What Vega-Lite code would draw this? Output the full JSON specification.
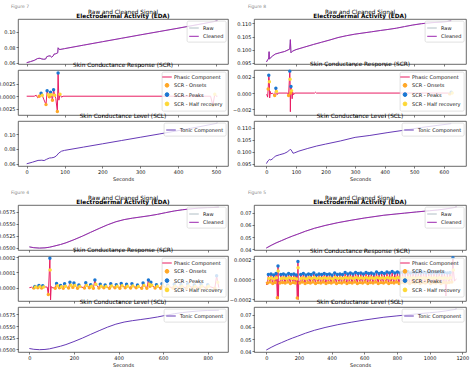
{
"$schema": "https://vega.github.io/schema/vega-lite/v6.json",
"background": "white",
"padding": {"left": -8, "top": 0, "right": 0, "bottom": 0},
"columns": 2,
"spacing": {"row": 6, "column": 26},
"bounds": "flush",
"align": "each",
"resolve": {"scale": {"color": "independent"}},
"datasets": {
"w7c": [{"x":0,"y":0.0602},{"x":10,"y":0.0616},{"x":20,"y":0.0632},{"x":29,"y":0.0656},{"x":35,"y":0.0659},{"x":40,"y":0.065},{"x":45,"y":0.0646},{"x":50,"y":0.0649},{"x":53,"y":0.0679},{"x":58,"y":0.0688},{"x":62,"y":0.069},{"x":66,"y":0.0673},{"x":70,"y":0.0689},{"x":72,"y":0.0711},{"x":76,"y":0.0716},{"x":80,"y":0.0724},{"x":82,"y":0.0729},{"x":83,"y":0.0794},{"x":85,"y":0.0777},{"x":88,"y":0.0772},{"x":100,"y":0.0783},{"x":150,"y":0.0828},{"x":200,"y":0.0872},{"x":250,"y":0.0916},{"x":300,"y":0.096},{"x":350,"y":0.1003},{"x":400,"y":0.1046},{"x":450,"y":0.1091},{"x":504,"y":0.114}],
"w7t": [{"x":0,"y":0.06},{"x":15,"y":0.0621},{"x":30,"y":0.0645},{"x":40,"y":0.0648},{"x":46,"y":0.0643},{"x":52,"y":0.0659},{"x":60,"y":0.0677},{"x":66,"y":0.068},{"x":72,"y":0.0686},{"x":78,"y":0.0704},{"x":85,"y":0.0745},{"x":92,"y":0.0769},{"x":100,"y":0.078},{"x":150,"y":0.0824},{"x":200,"y":0.0868},{"x":250,"y":0.0912},{"x":300,"y":0.0956},{"x":350,"y":0.1},{"x":400,"y":0.1045},{"x":450,"y":0.1092},{"x":504,"y":0.1145}],
"w7s": [{"x":0,"y":0,"k":"Phasic Component"},{"x":20,"y":0,"k":"Phasic Component"},{"x":25,"y":0.0002,"k":"Phasic Component"},{"x":29,"y":-0.0003,"k":"Phasic Component"},{"x":33,"y":0,"k":"SCR - Onsets"},{"x":38,"y":0.0006,"k":"SCR - Peaks"},{"x":41,"y":0.0002,"k":"SCR - Half recovery"},{"x":45,"y":-0.0006,"k":"Phasic Component"},{"x":51,"y":-0.0017,"k":"SCR - Onsets"},{"x":54,"y":0.0011,"k":"SCR - Peaks"},{"x":57,"y":0.0003,"k":"SCR - Half recovery"},{"x":60,"y":-0.0001,"k":"SCR - Onsets"},{"x":63,"y":0.0008,"k":"SCR - Peaks"},{"x":65,"y":0.0003,"k":"SCR - Half recovery"},{"x":68,"y":-0.0008,"k":"SCR - Onsets"},{"x":71,"y":0.0013,"k":"SCR - Peaks"},{"x":74,"y":0.0002,"k":"SCR - Half recovery"},{"x":77,"y":-0.0005,"k":"Phasic Component"},{"x":81,"y":-0.0031,"k":"SCR - Onsets"},{"x":83,"y":0.0047,"k":"SCR - Peaks"},{"x":85,"y":-0.0008,"k":"Phasic Component"},{"x":88,"y":0.0004,"k":"SCR - Half recovery"},{"x":92,"y":-0.0002,"k":"Phasic Component"},{"x":96,"y":0,"k":"Phasic Component"},{"x":486,"y":0,"k":"Phasic Component"},{"x":492,"y":-0.0019,"k":"SCR - Onsets"},{"x":497,"y":0.0004,"k":"SCR - Half recovery"},{"x":501,"y":0,"k":"Phasic Component"},{"x":504,"y":0,"k":"Phasic Component"}],
"w8c": [{"x":0,"y":0.0953},{"x":5,"y":0.0962},{"x":8,"y":0.0968},{"x":9,"y":0.0992},{"x":10,"y":0.0964},{"x":20,"y":0.0975},{"x":30,"y":0.0983},{"x":45,"y":0.0988},{"x":62,"y":0.0993},{"x":79,"y":0.1002},{"x":81,"y":0.1038},{"x":83,"y":0.0988},{"x":88,"y":0.0994},{"x":100,"y":0.1},{"x":130,"y":0.101},{"x":160,"y":0.102},{"x":186,"y":0.1028},{"x":215,"y":0.1037},{"x":242,"y":0.1046},{"x":270,"y":0.1053},{"x":299,"y":0.1059},{"x":330,"y":0.1064},{"x":355,"y":0.1068},{"x":385,"y":0.1073},{"x":411,"y":0.1077},{"x":440,"y":0.1082},{"x":467,"y":0.1088},{"x":495,"y":0.1094},{"x":524,"y":0.1099},{"x":560,"y":0.1103},{"x":600,"y":0.1106},{"x":625,"y":0.1109}],
"w8t": [{"x":0,"y":0.0951},{"x":5,"y":0.0962},{"x":10,"y":0.0968},{"x":15,"y":0.0966},{"x":22,"y":0.0972},{"x":30,"y":0.0982},{"x":45,"y":0.0988},{"x":60,"y":0.0993},{"x":70,"y":0.0999},{"x":78,"y":0.1007},{"x":82,"y":0.101},{"x":86,"y":0.1003},{"x":90,"y":0.0994},{"x":96,"y":0.0996},{"x":110,"y":0.1003},{"x":140,"y":0.1014},{"x":170,"y":0.1024},{"x":200,"y":0.1032},{"x":250,"y":0.1045},{"x":300,"y":0.106},{"x":350,"y":0.1068},{"x":411,"y":0.108},{"x":467,"y":0.109},{"x":524,"y":0.1101},{"x":580,"y":0.111},{"x":625,"y":0.1117}],
"w8s": [{"x":0,"y":-0.0002,"k":"Phasic Component"},{"x":2,"y":-0.0002,"k":"Phasic Component"},{"x":4,"y":-0.0005,"k":"Phasic Component"},{"x":6,"y":0.0005,"k":"SCR - Onsets"},{"x":8,"y":0.0022,"k":"SCR - Peaks"},{"x":10,"y":0.0014,"k":"SCR - Half recovery"},{"x":11,"y":-0.0006,"k":"Phasic Component"},{"x":13,"y":0.0002,"k":"Phasic Component"},{"x":15,"y":-0.0001,"k":"Phasic Component"},{"x":20,"y":0,"k":"Phasic Component"},{"x":28,"y":-0.0003,"k":"SCR - Onsets"},{"x":32,"y":0.0006,"k":"SCR - Peaks"},{"x":34,"y":0.0002,"k":"SCR - Half recovery"},{"x":36,"y":-0.0002,"k":"Phasic Component"},{"x":40,"y":0,"k":"Phasic Component"},{"x":72,"y":0,"k":"Phasic Component"},{"x":75,"y":-0.0003,"k":"SCR - Onsets"},{"x":79,"y":0.0027,"k":"SCR - Peaks"},{"x":80,"y":0.0017,"k":"SCR - Half recovery"},{"x":81,"y":-0.0023,"k":"Phasic Component"},{"x":82,"y":0,"k":"SCR - Onsets"},{"x":83,"y":0.0008,"k":"SCR - Peaks"},{"x":85,"y":0.0003,"k":"SCR - Half recovery"},{"x":87,"y":-0.0007,"k":"Phasic Component"},{"x":89,"y":0.0001,"k":"Phasic Component"},{"x":92,"y":-0.0002,"k":"Phasic Component"},{"x":95,"y":0,"k":"Phasic Component"},{"x":163,"y":0,"k":"Phasic Component"},{"x":166,"y":0.0001,"k":"Phasic Component"},{"x":169,"y":0,"k":"Phasic Component"},{"x":615,"y":0,"k":"Phasic Component"},{"x":620,"y":-0.0001,"k":"SCR - Onsets"},{"x":625,"y":0.0001,"k":"SCR - Peaks"},{"x":628,"y":0,"k":"SCR - Half recovery"},{"x":632,"y":0,"k":"Phasic Component"}],
"w4c": [{"x":0,"y":0.05015},{"x":20,"y":0.04998},{"x":45,"y":0.0499},{"x":70,"y":0.04995},{"x":90,"y":0.05008},{"x":110,"y":0.0503},{"x":140,"y":0.05065},{"x":164,"y":0.051},{"x":200,"y":0.05165},{"x":238,"y":0.0524},{"x":275,"y":0.0532},{"x":313,"y":0.054},{"x":350,"y":0.05475},{"x":388,"y":0.0554},{"x":425,"y":0.05585},{"x":462,"y":0.05615},{"x":500,"y":0.0564},{"x":537,"y":0.05665},{"x":575,"y":0.05695},{"x":611,"y":0.0573},{"x":650,"y":0.05765},{"x":686,"y":0.0579},{"x":725,"y":0.0581},{"x":760,"y":0.05825},{"x":800,"y":0.05835},{"x":850,"y":0.0584}],
"w4s": [{"x":0,"y":0,"k":"Phasic Component"},{"x":10,"y":0.000003,"k":"Phasic Component"},{"x":15,"y":-0.000004,"k":"Phasic Component"},
{"x":20,"y":-0.000002,"k":"SCR - Onsets"},{"x":25,"y":0.000008,"k":"SCR - Peaks"},{"x":28,"y":0.000004,"k":"SCR - Half recovery"},
{"x":38,"y":0,"k":"SCR - Onsets"},{"x":43,"y":0.000015,"k":"SCR - Peaks"},{"x":47,"y":0.000007,"k":"SCR - Half recovery"},
{"x":55,"y":-0.000002,"k":"SCR - Onsets"},{"x":60,"y":0.000012,"k":"SCR - Peaks"},{"x":64,"y":0.000005,"k":"SCR - Half recovery"},
{"x":80,"y":0.000004,"k":"Phasic Component"},{"x":85,"y":-0.000045,"k":"SCR - Onsets"},{"x":92,"y":0.000193,"k":"SCR - Peaks"},{"x":93,"y":0.000115,"k":"SCR - Half recovery"},{"x":95,"y":-0.00008,"k":"Phasic Component"},{"x":98,"y":0.000008,"k":"Phasic Component"},{"x":102,"y":0,"k":"Phasic Component"},
{"x":116,"y":-0.000003,"k":"SCR - Onsets"},{"x":122,"y":0.000027,"k":"SCR - Peaks"},{"x":126,"y":0.000012,"k":"SCR - Half recovery"},
{"x":135,"y":0,"k":"SCR - Onsets"},{"x":140,"y":0.000015,"k":"SCR - Peaks"},{"x":144,"y":0.000007,"k":"SCR - Half recovery"},
{"x":152,"y":-0.000004,"k":"SCR - Onsets"},{"x":158,"y":0.000025,"k":"SCR - Peaks"},{"x":162,"y":0.00001,"k":"SCR - Half recovery"},
{"x":176,"y":-0.000002,"k":"SCR - Onsets"},{"x":182,"y":0.000035,"k":"SCR - Peaks"},{"x":186,"y":0.000016,"k":"SCR - Half recovery"},
{"x":195,"y":0.000002,"k":"SCR - Onsets"},{"x":200,"y":0.00003,"k":"SCR - Peaks"},{"x":204,"y":0.000014,"k":"SCR - Half recovery"},
{"x":216,"y":-0.000003,"k":"SCR - Onsets"},{"x":222,"y":0.000018,"k":"SCR - Peaks"},{"x":226,"y":0.000008,"k":"SCR - Half recovery"},
{"x":247,"y":-0.000002,"k":"SCR - Onsets"},{"x":253,"y":0.000032,"k":"SCR - Peaks"},{"x":257,"y":0.000015,"k":"SCR - Half recovery"},
{"x":269,"y":0,"k":"SCR - Onsets"},{"x":275,"y":0.00002,"k":"SCR - Peaks"},{"x":279,"y":0.000009,"k":"SCR - Half recovery"},
{"x":287,"y":-0.000004,"k":"SCR - Onsets"},{"x":294,"y":0.00005,"k":"SCR - Peaks"},{"x":298,"y":0.000022,"k":"SCR - Half recovery"},
{"x":312,"y":-0.000002,"k":"SCR - Onsets"},{"x":318,"y":0.000022,"k":"SCR - Peaks"},{"x":322,"y":0.00001,"k":"SCR - Half recovery"},
{"x":334,"y":0,"k":"SCR - Onsets"},{"x":340,"y":0.000018,"k":"SCR - Peaks"},{"x":344,"y":0.000008,"k":"SCR - Half recovery"},
{"x":359,"y":-0.000003,"k":"SCR - Onsets"},{"x":365,"y":0.000025,"k":"SCR - Peaks"},{"x":369,"y":0.000011,"k":"SCR - Half recovery"},
{"x":384,"y":-0.000001,"k":"SCR - Onsets"},{"x":390,"y":0.00002,"k":"SCR - Peaks"},{"x":394,"y":0.000009,"k":"SCR - Half recovery"},
{"x":406,"y":-0.000003,"k":"SCR - Onsets"},{"x":412,"y":0.000028,"k":"SCR - Peaks"},{"x":416,"y":0.000013,"k":"SCR - Half recovery"},
{"x":430,"y":0,"k":"SCR - Onsets"},{"x":436,"y":0.000022,"k":"SCR - Peaks"},{"x":440,"y":0.00001,"k":"SCR - Half recovery"},
{"x":454,"y":-0.000002,"k":"SCR - Onsets"},{"x":460,"y":0.000025,"k":"SCR - Peaks"},{"x":464,"y":0.000011,"k":"SCR - Half recovery"},
{"x":479,"y":-0.000001,"k":"SCR - Onsets"},{"x":485,"y":0.000018,"k":"SCR - Peaks"},{"x":489,"y":0.000008,"k":"SCR - Half recovery"},
{"x":504,"y":-0.000003,"k":"SCR - Onsets"},{"x":510,"y":0.00003,"k":"SCR - Peaks"},{"x":514,"y":0.000014,"k":"SCR - Half recovery"},
{"x":527,"y":-0.000004,"k":"SCR - Onsets"},{"x":534,"y":0.00005,"k":"SCR - Peaks"},{"x":538,"y":0.000022,"k":"SCR - Half recovery"},
{"x":541,"y":0.00001,"k":"SCR - Onsets"},{"x":545,"y":0.000035,"k":"SCR - Peaks"},{"x":549,"y":0.000016,"k":"SCR - Half recovery"},
{"x":564,"y":-0.000002,"k":"SCR - Onsets"},{"x":570,"y":0.00002,"k":"SCR - Peaks"},{"x":574,"y":0.000009,"k":"SCR - Half recovery"},
{"x":589,"y":-0.000003,"k":"SCR - Onsets"},{"x":595,"y":0.000025,"k":"SCR - Peaks"},{"x":599,"y":0.000011,"k":"SCR - Half recovery"},
{"x":614,"y":-0.000001,"k":"SCR - Onsets"},{"x":620,"y":0.000018,"k":"SCR - Peaks"},{"x":624,"y":0.000008,"k":"SCR - Half recovery"},
{"x":644,"y":-0.000002,"k":"SCR - Onsets"},{"x":650,"y":0.000022,"k":"SCR - Peaks"},{"x":654,"y":0.00001,"k":"SCR - Half recovery"},
{"x":674,"y":-0.000002,"k":"SCR - Onsets"},{"x":680,"y":0.00002,"k":"SCR - Peaks"},{"x":684,"y":0.000009,"k":"SCR - Half recovery"},
{"x":704,"y":-0.000003,"k":"SCR - Onsets"},{"x":710,"y":0.000025,"k":"SCR - Peaks"},{"x":714,"y":0.000011,"k":"SCR - Half recovery"},
{"x":734,"y":-0.000001,"k":"SCR - Onsets"},{"x":740,"y":0.000018,"k":"SCR - Peaks"},{"x":744,"y":0.000008,"k":"SCR - Half recovery"},
{"x":764,"y":-0.000002,"k":"SCR - Onsets"},{"x":770,"y":0.000022,"k":"SCR - Peaks"},{"x":774,"y":0.00001,"k":"SCR - Half recovery"},
{"x":794,"y":-0.000002,"k":"SCR - Onsets"},{"x":800,"y":0.00002,"k":"SCR - Peaks"},{"x":804,"y":0.000009,"k":"SCR - Half recovery"},
{"x":832,"y":-0.000003,"k":"SCR - Onsets"},{"x":840,"y":0.000078,"k":"SCR - Peaks"},{"x":845,"y":0.000035,"k":"SCR - Half recovery"},
{"x":850,"y":0,"k":"Phasic Component"}],
"w5c": [{"x":0,"y":0.041},{"x":30,"y":0.0432},{"x":60,"y":0.0452},{"x":92,"y":0.047},{"x":130,"y":0.0492},{"x":160,"y":0.0508},{"x":193,"y":0.0524},{"x":240,"y":0.0548},{"x":295,"y":0.0572},{"x":360,"y":0.0595},{"x":438,"y":0.0618},{"x":520,"y":0.0638},{"x":600,"y":0.0656},{"x":642,"y":0.0664},{"x":720,"y":0.0679},{"x":800,"y":0.069},{"x":846,"y":0.0696},{"x":920,"y":0.0706},{"x":1000,"y":0.0716},{"x":1050,"y":0.0722},{"x":1100,"y":0.0731},{"x":1165,"y":0.0745}],
"w5s": [{"x":0,"y":-0.00003,"k":"Phasic Component"},{"x":4,"y":-0.00006,"k":"Phasic Component"},
{"x":8,"y":-0.00004,"k":"SCR - Onsets"},{"x":13,"y":0.000045,"k":"SCR - Peaks"},{"x":16,"y":0.000005,"k":"SCR - Half recovery"},
{"x":24,"y":-0.00003,"k":"SCR - Onsets"},{"x":29,"y":0.00005,"k":"SCR - Peaks"},{"x":32,"y":0.00001,"k":"SCR - Half recovery"},
{"x":40,"y":-0.000045,"k":"SCR - Onsets"},{"x":45,"y":0.00004,"k":"SCR - Peaks"},{"x":48,"y":0,"k":"SCR - Half recovery"},
{"x":55,"y":-0.000035,"k":"SCR - Onsets"},{"x":60,"y":0.000055,"k":"SCR - Peaks"},{"x":63,"y":0.000012,"k":"SCR - Half recovery"},
{"x":68,"y":-0.000187,"k":"SCR - Onsets"},{"x":72,"y":0.00013,"k":"SCR - Peaks"},{"x":73,"y":0.00008,"k":"SCR - Half recovery"},{"x":74,"y":-0.0002,"k":"Phasic Component"},{"x":77,"y":-0.00002,"k":"Phasic Component"},
{"x":84,"y":-0.00004,"k":"SCR - Onsets"},{"x":89,"y":0.000045,"k":"SCR - Peaks"},{"x":92,"y":0.000005,"k":"SCR - Half recovery"},
{"x":100,"y":-0.000035,"k":"SCR - Onsets"},{"x":105,"y":0.00005,"k":"SCR - Peaks"},{"x":108,"y":0.00001,"k":"SCR - Half recovery"},
{"x":116,"y":-0.00004,"k":"SCR - Onsets"},{"x":121,"y":0.00004,"k":"SCR - Peaks"},{"x":124,"y":0.000002,"k":"SCR - Half recovery"},
{"x":132,"y":-0.00003,"k":"SCR - Onsets"},{"x":137,"y":0.000055,"k":"SCR - Peaks"},{"x":140,"y":0.000012,"k":"SCR - Half recovery"},
{"x":148,"y":-0.000045,"k":"SCR - Onsets"},{"x":153,"y":0.000045,"k":"SCR - Peaks"},{"x":156,"y":0.000005,"k":"SCR - Half recovery"},
{"x":164,"y":-0.000035,"k":"SCR - Onsets"},{"x":169,"y":0.00005,"k":"SCR - Peaks"},{"x":172,"y":0.000008,"k":"SCR - Half recovery"},
{"x":178,"y":-0.00004,"k":"SCR - Onsets"},{"x":183,"y":0.00004,"k":"SCR - Peaks"},{"x":186,"y":0,"k":"SCR - Half recovery"},
{"x":190,"y":-0.00019,"k":"SCR - Onsets"},{"x":194,"y":0.000175,"k":"SCR - Peaks"},{"x":195,"y":0.000113,"k":"SCR - Half recovery"},{"x":196,"y":-0.000205,"k":"Phasic Component"},{"x":199,"y":-0.00002,"k":"Phasic Component"},
{"x":206,"y":-0.00004,"k":"SCR - Onsets"},{"x":211,"y":0.000045,"k":"SCR - Peaks"},{"x":214,"y":0.000006,"k":"SCR - Half recovery"},
{"x":222,"y":-0.00003,"k":"SCR - Onsets"},{"x":227,"y":0.000055,"k":"SCR - Peaks"},{"x":230,"y":0.00001,"k":"SCR - Half recovery"},
{"x":238,"y":-0.000045,"k":"SCR - Onsets"},{"x":243,"y":0.00004,"k":"SCR - Peaks"},{"x":246,"y":0,"k":"SCR - Half recovery"},
{"x":254,"y":-0.000035,"k":"SCR - Onsets"},{"x":259,"y":0.00005,"k":"SCR - Peaks"},{"x":262,"y":0.000012,"k":"SCR - Half recovery"},
{"x":270,"y":-0.00004,"k":"SCR - Onsets"},{"x":275,"y":0.000045,"k":"SCR - Peaks"},{"x":278,"y":0.000004,"k":"SCR - Half recovery"},
{"x":286,"y":-0.00003,"k":"SCR - Onsets"},{"x":291,"y":0.00006,"k":"SCR - Peaks"},{"x":294,"y":0.000015,"k":"SCR - Half recovery"},
{"x":302,"y":-0.000045,"k":"SCR - Onsets"},{"x":307,"y":0.00004,"k":"SCR - Peaks"},{"x":310,"y":0.000002,"k":"SCR - Half recovery"},
{"x":318,"y":-0.000035,"k":"SCR - Onsets"},{"x":323,"y":0.00005,"k":"SCR - Peaks"},{"x":326,"y":0.00001,"k":"SCR - Half recovery"},
{"x":334,"y":-0.00004,"k":"SCR - Onsets"},{"x":339,"y":0.000045,"k":"SCR - Peaks"},{"x":342,"y":0.000006,"k":"SCR - Half recovery"},
{"x":350,"y":-0.00003,"k":"SCR - Onsets"},{"x":355,"y":0.000055,"k":"SCR - Peaks"},{"x":358,"y":0.000012,"k":"SCR - Half recovery"},
{"x":366,"y":-0.000045,"k":"SCR - Onsets"},{"x":371,"y":0.000045,"k":"SCR - Peaks"},{"x":374,"y":0.000004,"k":"SCR - Half recovery"},
{"x":382,"y":-0.000035,"k":"SCR - Onsets"},{"x":387,"y":0.00005,"k":"SCR - Peaks"},{"x":390,"y":0.00001,"k":"SCR - Half recovery"},
{"x":398,"y":-0.00004,"k":"SCR - Onsets"},{"x":403,"y":0.00004,"k":"SCR - Peaks"},{"x":406,"y":0,"k":"SCR - Half recovery"},
{"x":414,"y":-0.00003,"k":"SCR - Onsets"},{"x":419,"y":0.00006,"k":"SCR - Peaks"},{"x":422,"y":0.000015,"k":"SCR - Half recovery"},
{"x":430,"y":-0.000045,"k":"SCR - Onsets"},{"x":435,"y":0.000045,"k":"SCR - Peaks"},{"x":438,"y":0.000005,"k":"SCR - Half recovery"},
{"x":446,"y":-0.000035,"k":"SCR - Onsets"},{"x":451,"y":0.00005,"k":"SCR - Peaks"},{"x":454,"y":0.00001,"k":"SCR - Half recovery"},
{"x":462,"y":-0.00004,"k":"SCR - Onsets"},{"x":467,"y":0.000045,"k":"SCR - Peaks"},{"x":470,"y":0.000006,"k":"SCR - Half recovery"},
{"x":478,"y":-0.00003,"k":"SCR - Onsets"},{"x":483,"y":0.000065,"k":"SCR - Peaks"},{"x":486,"y":0.000015,"k":"SCR - Half recovery"},
{"x":494,"y":-0.000045,"k":"SCR - Onsets"},{"x":499,"y":0.00005,"k":"SCR - Peaks"},{"x":502,"y":0.000008,"k":"SCR - Half recovery"},
{"x":510,"y":-0.000035,"k":"SCR - Onsets"},{"x":515,"y":0.00006,"k":"SCR - Peaks"},{"x":518,"y":0.000012,"k":"SCR - Half recovery"},
{"x":526,"y":-0.00004,"k":"SCR - Onsets"},{"x":531,"y":0.00005,"k":"SCR - Peaks"},{"x":534,"y":0.000006,"k":"SCR - Half recovery"},
{"x":542,"y":-0.00003,"k":"SCR - Onsets"},{"x":547,"y":0.000065,"k":"SCR - Peaks"},{"x":550,"y":0.000015,"k":"SCR - Half recovery"},
{"x":558,"y":-0.000045,"k":"SCR - Onsets"},{"x":563,"y":0.000055,"k":"SCR - Peaks"},{"x":566,"y":0.000008,"k":"SCR - Half recovery"},
{"x":574,"y":-0.000035,"k":"SCR - Onsets"},{"x":579,"y":0.00006,"k":"SCR - Peaks"},{"x":582,"y":0.000012,"k":"SCR - Half recovery"},
{"x":590,"y":-0.00004,"k":"SCR - Onsets"},{"x":595,"y":0.00005,"k":"SCR - Peaks"},{"x":598,"y":0.000006,"k":"SCR - Half recovery"},
{"x":606,"y":-0.00003,"k":"SCR - Onsets"},{"x":611,"y":0.000065,"k":"SCR - Peaks"},{"x":614,"y":0.000015,"k":"SCR - Half recovery"},
{"x":622,"y":-0.000045,"k":"SCR - Onsets"},{"x":627,"y":0.000055,"k":"SCR - Peaks"},{"x":630,"y":0.000008,"k":"SCR - Half recovery"},
{"x":638,"y":-0.000035,"k":"SCR - Onsets"},{"x":643,"y":0.00006,"k":"SCR - Peaks"},{"x":646,"y":0.000012,"k":"SCR - Half recovery"},
{"x":654,"y":-0.00004,"k":"SCR - Onsets"},{"x":659,"y":0.00005,"k":"SCR - Peaks"},{"x":662,"y":0.000006,"k":"SCR - Half recovery"},
{"x":670,"y":-0.00003,"k":"SCR - Onsets"},{"x":675,"y":0.00007,"k":"SCR - Peaks"},{"x":678,"y":0.000015,"k":"SCR - Half recovery"},
{"x":686,"y":-0.000045,"k":"SCR - Onsets"},{"x":691,"y":0.000055,"k":"SCR - Peaks"},{"x":694,"y":0.000008,"k":"SCR - Half recovery"},
{"x":702,"y":-0.000035,"k":"SCR - Onsets"},{"x":707,"y":0.000065,"k":"SCR - Peaks"},{"x":710,"y":0.000012,"k":"SCR - Half recovery"},
{"x":718,"y":-0.00004,"k":"SCR - Onsets"},{"x":723,"y":0.000055,"k":"SCR - Peaks"},{"x":726,"y":0.000006,"k":"SCR - Half recovery"},
{"x":734,"y":-0.00003,"k":"SCR - Onsets"},{"x":739,"y":0.00007,"k":"SCR - Peaks"},{"x":742,"y":0.000015,"k":"SCR - Half recovery"},
{"x":750,"y":-0.000045,"k":"SCR - Onsets"},{"x":755,"y":0.00006,"k":"SCR - Peaks"},{"x":758,"y":0.000008,"k":"SCR - Half recovery"},
{"x":766,"y":-0.000035,"k":"SCR - Onsets"},{"x":771,"y":0.000075,"k":"SCR - Peaks"},{"x":774,"y":0.000012,"k":"SCR - Half recovery"},
{"x":782,"y":-0.00004,"k":"SCR - Onsets"},{"x":787,"y":0.00006,"k":"SCR - Peaks"},{"x":790,"y":0.000006,"k":"SCR - Half recovery"},
{"x":798,"y":-0.00003,"k":"SCR - Onsets"},{"x":803,"y":0.00007,"k":"SCR - Peaks"},{"x":806,"y":0.000015,"k":"SCR - Half recovery"},
{"x":814,"y":-0.000045,"k":"SCR - Onsets"},{"x":819,"y":0.00006,"k":"SCR - Peaks"},{"x":822,"y":0.000008,"k":"SCR - Half recovery"},
{"x":830,"y":-0.000035,"k":"SCR - Onsets"},{"x":835,"y":0.00007,"k":"SCR - Peaks"},{"x":838,"y":0.000012,"k":"SCR - Half recovery"},
{"x":846,"y":-0.00004,"k":"SCR - Onsets"},{"x":851,"y":0.00006,"k":"SCR - Peaks"},{"x":854,"y":0.000006,"k":"SCR - Half recovery"},
{"x":862,"y":-0.00003,"k":"SCR - Onsets"},{"x":867,"y":0.000075,"k":"SCR - Peaks"},{"x":870,"y":0.000015,"k":"SCR - Half recovery"},
{"x":878,"y":-0.000045,"k":"SCR - Onsets"},{"x":883,"y":0.00006,"k":"SCR - Peaks"},{"x":886,"y":0.000008,"k":"SCR - Half recovery"},
{"x":894,"y":-0.000035,"k":"SCR - Onsets"},{"x":899,"y":0.00007,"k":"SCR - Peaks"},{"x":902,"y":0.000012,"k":"SCR - Half recovery"},
{"x":910,"y":-0.00004,"k":"SCR - Onsets"},{"x":915,"y":0.00006,"k":"SCR - Peaks"},{"x":918,"y":0.000006,"k":"SCR - Half recovery"},
{"x":926,"y":-0.00003,"k":"SCR - Onsets"},{"x":931,"y":0.000075,"k":"SCR - Peaks"},{"x":934,"y":0.000015,"k":"SCR - Half recovery"},
{"x":942,"y":-0.000045,"k":"SCR - Onsets"},{"x":947,"y":0.00006,"k":"SCR - Peaks"},{"x":950,"y":0.000008,"k":"SCR - Half recovery"},
{"x":958,"y":-0.000035,"k":"SCR - Onsets"},{"x":963,"y":0.00007,"k":"SCR - Peaks"},{"x":966,"y":0.000012,"k":"SCR - Half recovery"},
{"x":974,"y":-0.00004,"k":"SCR - Onsets"},{"x":979,"y":0.00006,"k":"SCR - Peaks"},{"x":982,"y":0.000006,"k":"SCR - Half recovery"},
{"x":990,"y":-0.00003,"k":"SCR - Onsets"},{"x":995,"y":0.00007,"k":"SCR - Peaks"},{"x":998,"y":0.000015,"k":"SCR - Half recovery"},
{"x":1006,"y":-0.000045,"k":"SCR - Onsets"},{"x":1011,"y":0.00006,"k":"SCR - Peaks"},{"x":1014,"y":0.000008,"k":"SCR - Half recovery"},
{"x":1022,"y":-0.000035,"k":"SCR - Onsets"},{"x":1027,"y":0.00007,"k":"SCR - Peaks"},{"x":1030,"y":0.000012,"k":"SCR - Half recovery"},
{"x":1038,"y":-0.00004,"k":"SCR - Onsets"},{"x":1043,"y":0.00006,"k":"SCR - Peaks"},{"x":1046,"y":0.000006,"k":"SCR - Half recovery"},
{"x":1054,"y":-0.00003,"k":"SCR - Onsets"},{"x":1059,"y":0.00007,"k":"SCR - Peaks"},{"x":1062,"y":0.000015,"k":"SCR - Half recovery"},
{"x":1070,"y":-0.000045,"k":"SCR - Onsets"},{"x":1075,"y":0.00006,"k":"SCR - Peaks"},{"x":1078,"y":0.000008,"k":"SCR - Half recovery"},
{"x":1086,"y":-0.000035,"k":"SCR - Onsets"},{"x":1091,"y":0.000065,"k":"SCR - Peaks"},{"x":1094,"y":0.000012,"k":"SCR - Half recovery"},
{"x":1100,"y":-0.00017,"k":"Phasic Component"},
{"x":1104,"y":-0.00004,"k":"SCR - Onsets"},{"x":1109,"y":0.00006,"k":"SCR - Peaks"},{"x":1112,"y":0.000006,"k":"SCR - Half recovery"},
{"x":1120,"y":-0.000035,"k":"SCR - Onsets"},{"x":1125,"y":0.000065,"k":"SCR - Peaks"},{"x":1128,"y":0.000012,"k":"SCR - Half recovery"},
{"x":1136,"y":-0.00003,"k":"SCR - Onsets"},{"x":1143,"y":0.000213,"k":"SCR - Peaks"},{"x":1146,"y":0.00009,"k":"SCR - Half recovery"},
{"x":1152,"y":-0.00002,"k":"Phasic Component"},{"x":1165,"y":0,"k":"Phasic Component"}]
},
"concat": [
{"width":210,"height":13,"data":{"values":[]},"mark":"point","view":{"stroke":null},"title":{"text":"Figure 7","anchor":"start","offset":-8,"dx":-7,"fontSize":4.5,"color":"#8a8a8a"}},
{"width":212,"height":13,"data":{"values":[]},"mark":"point","view":{"stroke":null},"title":{"text":"Figure 8","anchor":"start","offset":-8,"dx":-6,"fontSize":4.5,"color":"#8a8a8a"}},

{"width":210,"height":45,"title":{"text":"Raw and Cleaned Signal","subtitle":"Electrodermal Activity (EDA)","offset":0.5},"data":{"name":"w7c"},
 "encoding":{"x":{"field":"x","type":"quantitative","scale":{"domain":[-23,532],"nice":false,"zero":false},"axis":{"values":[0,100,200,300,400,500],"labels":false,"title":null}},
  "y":{"field":"y","type":"quantitative","scale":{"domain":[0.0585,0.1165],"nice":false,"zero":false},"axis":{"values":[0.06,0.08,0.1],"format":".2f","title":null}}},
 "layer":[{"mark":{"type":"line","strokeWidth":1},"encoding":{"color":{"datum":"Raw","type":"nominal","title":null,"scale":{"domain":["Raw","Cleaned"],"range":["#B0BEC5","#9C27B0"]},"legend":{"title":null,"symbolType":"M-1.35,0H1.35"}}}},
  {"mark":{"type":"line","strokeWidth":1},"encoding":{"color":{"datum":"Cleaned","type":"nominal","title":null}}}]},
{"width":212,"height":45,"title":{"text":"Raw and Cleaned Signal","subtitle":"Electrodermal Activity (EDA)","offset":0.5},"data":{"name":"w8c"},
 "encoding":{"x":{"field":"x","type":"quantitative","scale":{"domain":[-42,675],"nice":false,"zero":false},"axis":{"values":[0,100,200,300,400,500,600],"labels":false,"title":null}},
  "y":{"field":"y","type":"quantitative","scale":{"domain":[0.0945,0.1117],"nice":false,"zero":false},"axis":{"values":[0.095,0.1,0.105,0.11],"format":".3f","title":null}}},
 "layer":[{"mark":{"type":"line","strokeWidth":1},"encoding":{"color":{"datum":"Raw","type":"nominal","title":null,"scale":{"domain":["Raw","Cleaned"],"range":["#B0BEC5","#9C27B0"]},"legend":{"title":null,"symbolType":"M-1.35,0H1.35"}}}},
  {"mark":{"type":"line","strokeWidth":1},"encoding":{"color":{"datum":"Cleaned","type":"nominal","title":null}}}]},

{"width":210,"height":45,"title":"Skin Conductance Response (SCR)","data":{"name":"w7s"},
 "encoding":{"x":{"field":"x","type":"quantitative","scale":{"domain":[-23,532],"nice":false,"zero":false},"axis":{"values":[0,100,200,300,400,500],"labels":false,"title":null}},
  "y":{"field":"y","type":"quantitative","scale":{"domain":[-0.0038,0.0053],"nice":false,"zero":false},"axis":{"values":[-0.0025,0,0.0025],"format":".4f","title":null}}},
 "layer":[{"mark":{"type":"line","strokeWidth":1},"encoding":{"color":{"datum":"Phasic Component","type":"nominal","title":null,"scale":{"domain":["Phasic Component","SCR - Onsets","SCR - Peaks","SCR - Half recovery"],"range":["#E91E63","#FFA726","#1976D2","#FDD835"]},
   "legend":{"title":null,"symbolType":"circle","encode":{"symbols":{"update":{"shape":{"signal":"datum.value == 'Phasic Component' ? 'M-1.35,0H1.35' : 'circle'"},"size":{"signal":"datum.value == 'Phasic Component' ? 50 : 14"},"fill":{"signal":"datum.value == 'SCR - Onsets' ? '#FFA726' : datum.value == 'SCR - Peaks' ? '#1976D2' : datum.value == 'SCR - Half recovery' ? '#FDD835' : 'transparent'"},"stroke":{"signal":"datum.value == 'Phasic Component' ? '#E91E63' : 'transparent'"},"strokeWidth":{"value":1},"opacity":{"value":1}}}}}}}},
  {"transform":[{"filter":"datum.k == 'SCR - Onsets'"}],"mark":{"type":"point","filled":true,"size":12,"opacity":1},"encoding":{"color":{"field":"k","type":"nominal","title":null}}},
  {"transform":[{"filter":"datum.k == 'SCR - Peaks'"}],"mark":{"type":"point","filled":true,"size":12,"opacity":1},"encoding":{"color":{"field":"k","type":"nominal","title":null}}},
  {"transform":[{"filter":"datum.k == 'SCR - Half recovery'"}],"mark":{"type":"point","filled":true,"size":12,"opacity":1},"encoding":{"color":{"field":"k","type":"nominal","title":null}}}]},
{"width":212,"height":45,"title":"Skin Conductance Response (SCR)","data":{"name":"w8s"},
 "encoding":{"x":{"field":"x","type":"quantitative","scale":{"domain":[-42,675],"nice":false,"zero":false},"axis":{"values":[0,100,200,300,400,500,600],"labels":false,"title":null}},
  "y":{"field":"y","type":"quantitative","scale":{"domain":[-0.0027,0.00284],"nice":false,"zero":false},"axis":{"values":[-0.002,0,0.002],"format":".3f","title":null}}},
 "layer":[{"mark":{"type":"line","strokeWidth":1},"encoding":{"color":{"datum":"Phasic Component","type":"nominal","title":null,"scale":{"domain":["Phasic Component","SCR - Onsets","SCR - Peaks","SCR - Half recovery"],"range":["#E91E63","#FFA726","#1976D2","#FDD835"]},
   "legend":{"title":null,"symbolType":"circle","encode":{"symbols":{"update":{"shape":{"signal":"datum.value == 'Phasic Component' ? 'M-1.35,0H1.35' : 'circle'"},"size":{"signal":"datum.value == 'Phasic Component' ? 50 : 14"},"fill":{"signal":"datum.value == 'SCR - Onsets' ? '#FFA726' : datum.value == 'SCR - Peaks' ? '#1976D2' : datum.value == 'SCR - Half recovery' ? '#FDD835' : 'transparent'"},"stroke":{"signal":"datum.value == 'Phasic Component' ? '#E91E63' : 'transparent'"},"strokeWidth":{"value":1},"opacity":{"value":1}}}}}}}},
  {"transform":[{"filter":"datum.k == 'SCR - Onsets'"}],"mark":{"type":"point","filled":true,"size":12,"opacity":1},"encoding":{"color":{"field":"k","type":"nominal","title":null}}},
  {"transform":[{"filter":"datum.k == 'SCR - Peaks'"}],"mark":{"type":"point","filled":true,"size":12,"opacity":1},"encoding":{"color":{"field":"k","type":"nominal","title":null}}},
  {"transform":[{"filter":"datum.k == 'SCR - Half recovery'"}],"mark":{"type":"point","filled":true,"size":12,"opacity":1},"encoding":{"color":{"field":"k","type":"nominal","title":null}}}]},

{"width":210,"height":45,"title":"Skin Conductance Level (SCL)","data":{"name":"w7t"},
 "encoding":{"x":{"field":"x","type":"quantitative","scale":{"domain":[-23,532],"nice":false,"zero":false},"axis":{"values":[0,100,200,300,400,500],"format":"d","title":"Seconds"}},
  "y":{"field":"y","type":"quantitative","scale":{"domain":[0.057,0.1175],"nice":false,"zero":false},"axis":{"values":[0.06,0.08,0.1],"format":".2f","title":null}}},
 "layer":[{"mark":{"type":"line","strokeWidth":1},"encoding":{"color":{"datum":"Tonic Component","type":"nominal","title":null,"scale":{"domain":["Tonic Component"],"range":["#673AB7"]},"legend":{"title":null,"symbolType":"M-1.35,0H1.35"}}}}]},
{"width":212,"height":45,"title":"Skin Conductance Level (SCL)","data":{"name":"w8t"},
 "encoding":{"x":{"field":"x","type":"quantitative","scale":{"domain":[-42,675],"nice":false,"zero":false},"axis":{"values":[0,100,200,300,400,500,600],"format":"d","title":"Seconds"}},
  "y":{"field":"y","type":"quantitative","scale":{"domain":[0.0941,0.1128],"nice":false,"zero":false},"axis":{"values":[0.095,0.1,0.105,0.11],"format":".3f","title":null}}},
 "layer":[{"mark":{"type":"line","strokeWidth":1},"encoding":{"color":{"datum":"Tonic Component","type":"nominal","title":null,"scale":{"domain":["Tonic Component"],"range":["#673AB7"]},"legend":{"title":null,"symbolType":"M-1.35,0H1.35"}}}}]},

{"width":210,"height":27,"data":{"values":[]},"mark":"point","view":{"stroke":null},"title":{"text":"Figure 4","anchor":"start","offset":-22,"dx":-7,"fontSize":4.5,"color":"#8a8a8a"}},
{"width":212,"height":27,"data":{"values":[]},"mark":"point","view":{"stroke":null},"title":{"text":"Figure 5","anchor":"start","offset":-22,"dx":-6,"fontSize":4.5,"color":"#8a8a8a"}},

{"width":210,"height":45,"title":{"text":"Raw and Cleaned Signal","subtitle":"Electrodermal Activity (EDA)","offset":0.5},"data":{"name":"w4c"},
 "encoding":{"x":{"field":"x","type":"quantitative","scale":{"domain":[-51,891],"nice":false,"zero":false},"axis":{"values":[0,200,400,600,800],"labels":false,"title":null}},
  "y":{"field":"y","type":"quantitative","scale":{"domain":[0.0495,0.0589],"nice":false,"zero":false},"axis":{"values":[0.05,0.0525,0.055,0.0575],"format":".4f","title":null}}},
 "layer":[{"mark":{"type":"line","strokeWidth":1},"encoding":{"color":{"datum":"Raw","type":"nominal","title":null,"scale":{"domain":["Raw","Cleaned"],"range":["#B0BEC5","#9C27B0"]},"legend":{"title":null,"symbolType":"M-1.35,0H1.35"}}}},
  {"mark":{"type":"line","strokeWidth":1},"encoding":{"color":{"datum":"Cleaned","type":"nominal","title":null}}}]},
{"width":212,"height":45,"title":{"text":"Raw and Cleaned Signal","subtitle":"Electrodermal Activity (EDA)","offset":0.5},"data":{"name":"w5c"},
 "encoding":{"x":{"field":"x","type":"quantitative","scale":{"domain":[-75,1223],"nice":false,"zero":false},"axis":{"values":[0,200,400,600,800,1000,1200],"labels":false,"title":null}},
  "y":{"field":"y","type":"quantitative","scale":{"domain":[0.0394,0.0763],"nice":false,"zero":false},"axis":{"values":[0.04,0.05,0.06,0.07],"format":".2f","title":null}}},
 "layer":[{"mark":{"type":"line","strokeWidth":1},"encoding":{"color":{"datum":"Raw","type":"nominal","title":null,"scale":{"domain":["Raw","Cleaned"],"range":["#B0BEC5","#9C27B0"]},"legend":{"title":null,"symbolType":"M-1.35,0H1.35"}}}},
  {"mark":{"type":"line","strokeWidth":1},"encoding":{"color":{"datum":"Cleaned","type":"nominal","title":null}}}]},

{"width":210,"height":45,"title":"Skin Conductance Response (SCR)","data":{"name":"w4s"},
 "encoding":{"x":{"field":"x","type":"quantitative","scale":{"domain":[-51,891],"nice":false,"zero":false},"axis":{"values":[0,200,400,600,800],"labels":false,"title":null}},
  "y":{"field":"y","type":"quantitative","scale":{"domain":[-0.000087,0.000207],"nice":false,"zero":false},"axis":{"values":[0,0.0001,0.0002],"format":".4f","title":null}}},
 "layer":[{"mark":{"type":"line","strokeWidth":1},"encoding":{"color":{"datum":"Phasic Component","type":"nominal","title":null,"scale":{"domain":["Phasic Component","SCR - Onsets","SCR - Peaks","SCR - Half recovery"],"range":["#E91E63","#FFA726","#1976D2","#FDD835"]},
   "legend":{"title":null,"symbolType":"circle","encode":{"symbols":{"update":{"shape":{"signal":"datum.value == 'Phasic Component' ? 'M-1.35,0H1.35' : 'circle'"},"size":{"signal":"datum.value == 'Phasic Component' ? 50 : 14"},"fill":{"signal":"datum.value == 'SCR - Onsets' ? '#FFA726' : datum.value == 'SCR - Peaks' ? '#1976D2' : datum.value == 'SCR - Half recovery' ? '#FDD835' : 'transparent'"},"stroke":{"signal":"datum.value == 'Phasic Component' ? '#E91E63' : 'transparent'"},"strokeWidth":{"value":1},"opacity":{"value":1}}}}}}}},
  {"transform":[{"filter":"datum.k == 'SCR - Onsets'"}],"mark":{"type":"point","filled":true,"size":12,"opacity":1},"encoding":{"color":{"field":"k","type":"nominal","title":null}}},
  {"transform":[{"filter":"datum.k == 'SCR - Peaks'"}],"mark":{"type":"point","filled":true,"size":12,"opacity":1},"encoding":{"color":{"field":"k","type":"nominal","title":null}}},
  {"transform":[{"filter":"datum.k == 'SCR - Half recovery'"}],"mark":{"type":"point","filled":true,"size":12,"opacity":1},"encoding":{"color":{"field":"k","type":"nominal","title":null}}}]},
{"width":212,"height":45,"title":"Skin Conductance Response (SCR)","data":{"name":"w5s"},
 "encoding":{"x":{"field":"x","type":"quantitative","scale":{"domain":[-75,1223],"nice":false,"zero":false},"axis":{"values":[0,200,400,600,800,1000,1200],"labels":false,"title":null}},
  "y":{"field":"y","type":"quantitative","scale":{"domain":[-0.00022,0.00023],"nice":false,"zero":false},"axis":{"values":[-0.0002,0,0.0002],"format":".4f","title":null}}},
 "layer":[{"mark":{"type":"line","strokeWidth":1},"encoding":{"color":{"datum":"Phasic Component","type":"nominal","title":null,"scale":{"domain":["Phasic Component","SCR - Onsets","SCR - Peaks","SCR - Half recovery"],"range":["#E91E63","#FFA726","#1976D2","#FDD835"]},
   "legend":{"title":null,"symbolType":"circle","encode":{"symbols":{"update":{"shape":{"signal":"datum.value == 'Phasic Component' ? 'M-1.35,0H1.35' : 'circle'"},"size":{"signal":"datum.value == 'Phasic Component' ? 50 : 14"},"fill":{"signal":"datum.value == 'SCR - Onsets' ? '#FFA726' : datum.value == 'SCR - Peaks' ? '#1976D2' : datum.value == 'SCR - Half recovery' ? '#FDD835' : 'transparent'"},"stroke":{"signal":"datum.value == 'Phasic Component' ? '#E91E63' : 'transparent'"},"strokeWidth":{"value":1},"opacity":{"value":1}}}}}}}},
  {"transform":[{"filter":"datum.k == 'SCR - Onsets'"}],"mark":{"type":"point","filled":true,"size":12,"opacity":1},"encoding":{"color":{"field":"k","type":"nominal","title":null}}},
  {"transform":[{"filter":"datum.k == 'SCR - Peaks'"}],"mark":{"type":"point","filled":true,"size":12,"opacity":1},"encoding":{"color":{"field":"k","type":"nominal","title":null}}},
  {"transform":[{"filter":"datum.k == 'SCR - Half recovery'"}],"mark":{"type":"point","filled":true,"size":12,"opacity":1},"encoding":{"color":{"field":"k","type":"nominal","title":null}}}]},

{"width":210,"height":45,"title":"Skin Conductance Level (SCL)","data":{"name":"w4c"},
 "encoding":{"x":{"field":"x","type":"quantitative","scale":{"domain":[-51,891],"nice":false,"zero":false},"axis":{"values":[0,200,400,600,800],"format":"d","title":"Seconds"}},
  "y":{"field":"y","type":"quantitative","scale":{"domain":[0.0494,0.0591],"nice":false,"zero":false},"axis":{"values":[0.05,0.0525,0.055,0.0575],"format":".4f","title":null}}},
 "layer":[{"mark":{"type":"line","strokeWidth":1},"encoding":{"color":{"datum":"Tonic Component","type":"nominal","title":null,"scale":{"domain":["Tonic Component"],"range":["#673AB7"]},"legend":{"title":null,"symbolType":"M-1.35,0H1.35"}}}}]},
{"width":212,"height":45,"title":"Skin Conductance Level (SCL)","data":{"name":"w5c"},
 "encoding":{"x":{"field":"x","type":"quantitative","scale":{"domain":[-75,1223],"nice":false,"zero":false},"axis":{"values":[0,200,400,600,800,1000,1200],"format":"d","title":"Seconds"}},
  "y":{"field":"y","type":"quantitative","scale":{"domain":[0.0394,0.0763],"nice":false,"zero":false},"axis":{"values":[0.04,0.05,0.06,0.07],"format":".2f","title":null}}},
 "layer":[{"mark":{"type":"line","strokeWidth":1},"encoding":{"color":{"datum":"Tonic Component","type":"nominal","title":null,"scale":{"domain":["Tonic Component"],"range":["#673AB7"]},"legend":{"title":null,"symbolType":"M-1.35,0H1.35"}}}}]}
],
"config": {
 "font": "DejaVu Sans",
 "view": {"stroke": "#444", "strokeWidth": 0.8},
 "axis": {"labelFont": "DejaVu Sans", "labelFontSize": 5, "labelColor": "#111", "tickColor": "#222", "tickSize": 2, "tickWidth": 0.6, "labelPadding": 1, "domain": false, "grid": false, "titleFont": "DejaVu Sans", "titleFontSize": 5, "titleFontWeight": "normal", "titleColor": "#111", "titlePadding": 2, "labelFlush": false, "labelOverlap": false},
 "legend": {"orient": "top-right", "offset": 2, "padding": 2.5, "labelFont": "DejaVu Sans", "labelFontSize": 5, "labelColor": "#111", "symbolSize": 50, "symbolStrokeWidth": 1, "rowPadding": 0.3, "labelOffset": 4.5, "strokeColor": "#cccccc", "strokeWidth": 0.6, "fillColor": "rgba(255,255,255,0.8)", "cornerRadius": 1.5},
 "title": {"font": "DejaVu Sans", "fontSize": 5.8, "fontWeight": "normal", "color": "#000", "offset": 2, "subtitleFont": "DejaVu Sans", "subtitleFontSize": 5.8, "subtitleFontWeight": "bold", "subtitleColor": "#000", "subtitlePadding": -1.8}
}
}
